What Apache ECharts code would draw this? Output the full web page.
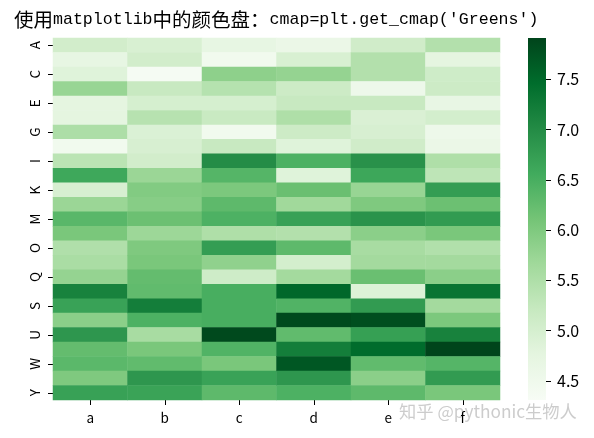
<!DOCTYPE html>
<html><head><meta charset="utf-8">
<style>html,body{margin:0;padding:0;background:#fff}#c{width:594px;height:438px}</style>
<script src="https://cdn.jsdelivr.net/npm/echarts@6/dist/echarts.min.js"></script>
</head><body><div id="c"></div>
<script>
const rowLabels = "ABCDEFGHIJKLMNOPQRSTUVWXY".split("");
const colLabels = ["a","b","c","d","e","f"];
const colA = [5.05,4.70,4.85,5.75,4.75,4.75,5.52,4.47,5.35,6.60,4.97,5.72,6.35,6.05,5.48,5.55,5.78,7.15,6.68,5.88,6.85,6.25,6.33,6.00,6.70];
const colB = [4.95,5.05,4.35,5.20,5.00,5.40,4.92,4.97,5.05,5.72,5.97,5.92,6.18,5.70,6.00,6.05,6.25,6.28,7.20,6.45,5.58,6.05,6.28,6.85,6.67];
const colC = [4.70,4.45,5.85,5.42,5.00,5.18,4.47,5.20,7.00,6.38,6.03,6.30,6.45,5.50,6.75,5.83,5.10,6.50,6.50,6.50,7.85,6.42,6.05,6.68,6.30];
const colD = [4.60,4.95,5.78,5.12,5.20,5.50,5.12,4.85,6.45,4.85,6.20,5.66,6.70,5.45,6.30,5.03,5.62,7.52,6.42,7.85,6.28,7.20,7.70,6.85,6.45];
const colE = [5.08,5.45,5.45,4.55,5.20,4.93,4.97,5.08,6.92,6.62,5.75,6.00,6.90,5.88,5.58,5.62,6.20,4.88,6.78,7.80,6.72,7.47,6.28,5.88,6.30];
const colF = [5.45,4.76,5.10,5.12,4.68,5.03,4.55,4.62,5.50,5.32,6.75,6.18,6.78,6.05,5.47,5.62,5.88,7.35,5.62,6.03,7.15,7.91,6.38,6.78,6.05];
const columns = [colA,colB,colC,colD,colE,colF];
const colorbarTicks = [4.5,5.0,5.5,6.0,6.5,7.0,7.5];
const vMin = 4.31, vMax = 7.91;
const greens = ["#f7fcf5","#e5f5e0","#c7e9c0","#a1d99b","#74c476","#41ab5d","#238b45","#006d2c","#00441b"];

const cells = [];
columns.forEach((col,i)=>col.forEach((v,j)=>cells.push([i,j,v])));
const labelFont = '"Noto Sans CJK SC"';
const hiddenLine = {show:true,lineStyle:{color:'rgba(0,0,0,0)',width:0}};
const tick = {show:true,alignWithLabel:true,length:5,lineStyle:{color:'#000',width:1}};
const chart = echarts.init(document.getElementById('c'),null,{renderer:'canvas'});
chart.setOption({
  animation:false,
  backgroundColor:'#fff',
  title:{
    left:14, top:10, padding:0,
    text:"{c|使用}{l|matplotlib}{c|中的颜色盘：}{l|cmap=plt.get_cmap('Greens')}",
    textStyle:{fontWeight:'normal',rich:{
      c:{fontFamily:labelFont,fontSize:19.5,color:'#000',fontWeight:'normal'},
      l:{fontFamily:'"Liberation Mono"',fontSize:16.6,color:'#000',fontWeight:'normal'}
    }}
  },
  grid:[
    {left:53,top:38,width:447,height:362},
    {left:528,top:38,width:18,height:362}
  ],
  xAxis:[
    {type:'category',gridIndex:0,data:colLabels,position:'bottom',
     axisLine:hiddenLine,splitLine:{show:false},axisTick:tick,
     axisLabel:{color:'#000',fontFamily:labelFont,fontSize:13.5,margin:11}},
    {type:'category',gridIndex:1,show:false,data:['colorbar']}
  ],
  yAxis:[
    {type:'category',gridIndex:0,data:rowLabels,inverse:true,
     axisLine:hiddenLine,splitLine:{show:false},
     axisTick:Object.assign({},tick,{interval:1}),
     axisLabel:{interval:1,rotate:90,color:'#000',fontFamily:labelFont,fontSize:13.5,margin:11}},
    {type:'value',gridIndex:1,position:'right',min:vMin,max:vMax,
     axisLine:hiddenLine,splitLine:{show:false},
     axisTick:{show:true,length:5,customValues:colorbarTicks,lineStyle:{color:'#000',width:1}},
     axisLabel:{show:true,color:'#000',fontFamily:labelFont,fontSize:16,margin:11,
       customValues:colorbarTicks,formatter:v=>v.toFixed(1)}}
  ],
  visualMap:{
    type:'continuous',show:false,min:vMin,max:vMax,seriesIndex:0,
    inRange:{color:greens}
  },
  series:[{
    type:'heatmap',xAxisIndex:0,yAxisIndex:0,data:cells,progressive:0,
    emphasis:{disabled:true},itemStyle:{borderWidth:0}
  },{
    type:'bar',xAxisIndex:1,yAxisIndex:1,data:[vMax],barWidth:'100%',silent:true,
    itemStyle:{color:new echarts.graphic.LinearGradient(0,1,0,0,
      greens.map((c,i)=>({offset:i/(greens.length-1),color:c})))}
  }],
  graphic:[{
    type:'text',left:399,top:403,silent:true,
    style:{text:'知乎 @pythonic生物人',fontFamily:labelFont,fontSize:17.3,fill:'rgba(170,170,170,0.6)'}
  }]
});
</script></body></html>
